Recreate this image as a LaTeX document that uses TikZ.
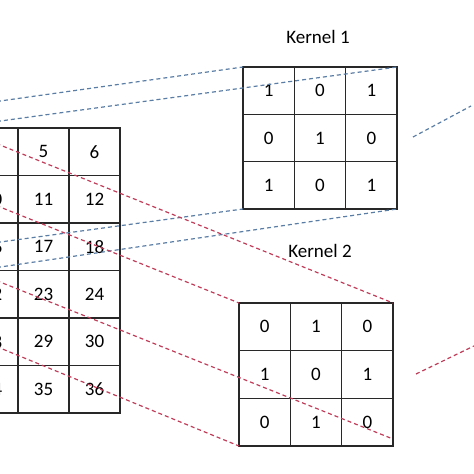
\documentclass[tikz,border=0pt]{standalone}
\usepackage{fontspec}
\setmainfont{Carlito}
\definecolor{bl}{RGB}{90,125,165}
\definecolor{rd}{RGB}{192,60,88}
\definecolor{gridc}{RGB}{40,40,40}
\begin{document}
\begin{tikzpicture}[x=1pt,y=-1pt,
  cellbox/.style={draw=gridc,line width=1.4pt,inner sep=0pt,outer sep=0pt,
    font=\fontsize{19}{21}\selectfont,anchor=center},
  incell/.style={cellbox,minimum width=51pt,minimum height=47.5pt},
  kacell/.style={cellbox,minimum width=51.33pt,minimum height=47.33pt},
  kbcell/.style={cellbox,minimum width=51.33pt,minimum height=47.67pt},
  lbl/.style={font=\fontsize{19}{21}\selectfont,inner sep=0pt},
  bdash/.style={draw=bl,line width=1.2pt,dash pattern=on 4pt off 3pt},
  rdash/.style={draw=rd,line width=1.2pt,dash pattern=on 4pt off 3pt}]
\useasboundingbox (0,0) rectangle (474,474);
\clip (0,0) rectangle (474,474);
% input grid: the visible columns 4 to 6 of a 6x6 grid
\foreach \i in {1,...,6}{
  \foreach \j in {4,5,6}{
    \pgfmathtruncatemacro\n{(\i-1)*6+\j}
    \node[incell] (in-\i-\j) at ({120-(6.5-\j)*51},{128+(\i-0.5)*47.5}) {\n};
  }
}
% kernel 1
\foreach \i in {1,2,3}{
  \foreach \j in {1,2,3}{
    \pgfmathtruncatemacro\v{mod(\i+\j+1,2)}
    \node[kacell] (ka-\i-\j) at ({243+(\j-0.5)*51.33},{67+(\i-0.5)*47.33}) {\v};
  }
}
% kernel 2
\foreach \i in {1,2,3}{
  \foreach \j in {1,2,3}{
    \pgfmathtruncatemacro\v{mod(\i+\j,2)}
    \node[kbcell] (kb-\i-\j) at ({239+(\j-0.5)*51.33},{303+(\i-0.5)*47.67}) {\v};
  }
}
\node[lbl] (t1) at (318,37) {Kernel 1};
\node[lbl] (t2) at (320,251) {Kernel 2};
% free ends of dashed lines
\coordinate (u1) at (-10,102.4);
\coordinate (u2) at (-10,122.4);
\coordinate (la) at (-10,243.4);
\coordinate (lb) at (-10,268.5);
\coordinate (r1) at (-10,141);
\coordinate (r2) at (-10,203);
\coordinate (r3) at (-10,278);
\coordinate (r4) at (-10,343.9);
\coordinate (bx1) at (413,137);
\coordinate (bx2) at (471,106);
\coordinate (rx1) at (416,374);
\coordinate (rx2) at (478,344);
% blue lines to kernel 1
\draw[bdash] (u1) -- (ka-1-1.north west);
\draw[bdash] (u2) -- (ka-1-3.north east);
\draw[bdash] (la) -- (ka-3-1.south west);
\draw[bdash] (lb) -- (ka-3-3.south east);
\draw[bdash] (bx1) -- (bx2);
% red lines to kernel 2
\draw[rdash] (r1) -- (kb-1-3.north east);
\draw[rdash] (r2) -- (kb-1-1.north west);
\draw[rdash] (r3) -- ([yshift=7pt]kb-3-3.south east);
\draw[rdash] (r4) -- (kb-3-1.south west);
\draw[rdash] (rx1) -- (rx2);
\end{tikzpicture}
\end{document}
